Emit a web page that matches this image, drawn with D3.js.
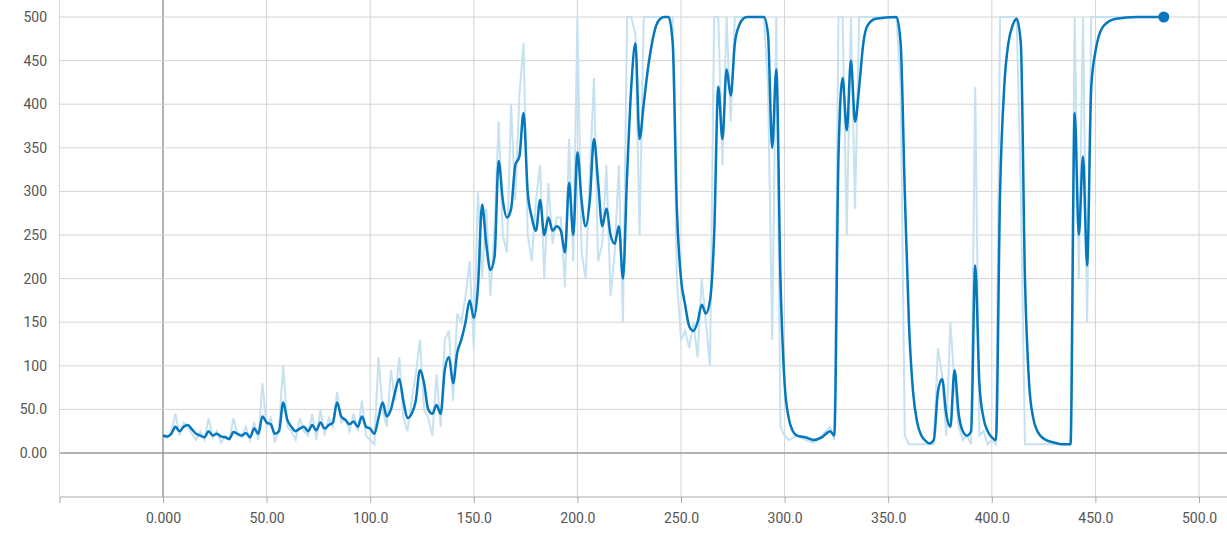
<!DOCTYPE html><html><head><meta charset="utf-8"><script src="https://cdn.jsdelivr.net/npm/d3@7"></script>
<style>body{margin:0;background:#fff}text{font-family:Roboto,"Open Sans",sans-serif}</style></head><body><svg id="c" width="1227" height="540"></svg><script>
const xTicks=[0,50,100,150,200,250,300,350,400,450,500];
const xTickLabels=["0.000","50.00","100.0","150.0","200.0","250.0","300.0","350.0","400.0","450.0","500.0"];
const yTicks=[0,50,100,150,200,250,300,350,400,450,500];
const yTickLabels=["0.00","50.0","100","150","200","250","300","350","400","450","500"];
const smoothSteps=[0,2,4,6,8,10,12,14,16,18,20,22,24,26,28,30,32,34,36,38,40,42,44,46,48,50,52,54,56,58,60,62,64,66,68,70,72,74,76,78,80,82,84,86,88,90,92,94,96,98,100,102,104,106,108,110,112,114,116,118,120,122,124,126,128,130,132,134,136,138,140,142,144,146,148,150,152,154,156,158,160,162,164,166,168,170,172,174,176,178,180,182,184,186,188,190,192,194,196,198,200,202,204,206,208,210,212,214,216,218,220,222,224,226,228,230,232,234,236,238,240,242,244,246,248,250,252,254,256,258,260,262,264,266,268,270,272,274,276,278,280,282,290,292,294,296,298,300,302,304,306,310,314,318,322,324,326,328,330,332,334,336,338,340,344,354,356,358,360,362,364,366,368,370,372,374,376,378,380,382,384,386,388,390,392,394,396,398,400,402,404,406,408,410,412,414,416,418,420,422,426,430,434,438,440,442,444,446,448,450,454,460,470,483];
const smoothValues=[20,19,22,30,25,30,32,27,22,20,18,25,20,22,19,18,16,24,22,20,23,18,28,22,42,35,33,22,25,58,38,30,25,28,30,25,32,26,35,28,32,35,58,42,38,33,36,30,42,30,28,22,40,58,42,50,70,85,60,40,45,60,95,80,50,45,55,45,95,110,80,115,130,150,175,155,190,285,240,210,225,335,290,270,280,330,340,390,300,270,255,290,250,270,255,260,255,230,310,250,345,290,260,290,360,310,260,280,250,240,260,200,320,420,470,360,400,440,470,490,498,500,500,470,280,200,170,145,140,150,170,160,175,250,420,360,440,410,470,490,498,500,500,480,350,440,200,80,40,25,20,18,15,18,25,20,340,430,370,450,380,420,470,490,498,500,470,300,150,70,35,20,14,11,15,70,85,45,30,95,45,25,20,25,215,80,40,25,18,15,300,420,470,490,498,470,200,80,40,25,15,12,10,10,390,250,340,215,420,460,490,498,500,500];
const rawSteps=[0,2,4,6,8,10,12,14,16,18,20,22,24,26,28,30,32,34,36,38,40,42,44,46,48,50,52,54,56,58,60,62,64,66,68,70,72,74,76,78,80,82,84,86,88,90,92,94,96,98,100,102,104,106,108,110,112,114,116,118,120,122,124,126,128,130,132,134,136,138,140,142,144,146,148,150,152,154,156,158,160,162,164,166,168,170,172,174,176,178,180,182,184,186,188,190,192,194,196,198,200,202,204,206,208,210,212,214,216,218,220,222,224,226,228,230,232,234,236,240,246,248,250,252,254,256,258,260,262,264,266,268,270,272,274,276,282,290,292,294,296,298,300,302,306,310,314,318,322,324,326,328,330,332,334,336,340,354,356,358,360,364,368,372,374,376,378,380,382,384,386,388,390,392,394,396,398,400,402,404,406,412,414,416,420,426,430,434,438,440,442,444,446,448,450,483];
const rawValues=[20,17,25,45,20,35,30,22,15,25,15,40,18,25,12,20,15,40,20,18,30,15,35,15,80,30,40,12,30,100,30,25,15,40,25,20,45,15,50,20,40,30,70,35,40,25,45,25,60,20,15,10,110,50,30,95,60,110,40,25,60,90,130,50,40,20,90,30,130,140,60,160,150,180,220,120,300,200,280,180,260,380,250,230,400,290,410,470,250,220,290,330,200,310,240,270,270,190,360,220,500,230,200,320,430,220,240,330,180,230,330,150,500,500,480,250,500,500,500,500,500,200,130,140,120,150,110,200,150,100,500,500,330,500,380,500,500,500,420,130,500,30,20,15,20,15,12,20,30,15,500,500,250,500,280,500,500,500,420,20,10,10,10,10,120,90,20,150,80,30,15,20,10,420,20,25,10,15,10,500,500,500,300,10,10,10,10,10,10,500,200,500,150,500,500,500];

const svg=d3.select("#c");
const x=d3.scaleLinear().domain([-50,500]).range([59.4,1199]);
const y=d3.scaleLinear().domain([-50,500]).range([496.6,17]);
const g=svg.append("g");
g.selectAll(".vg").data([-50,...xTicks]).join("line").attr("x1",d=>x(d)).attr("x2",d=>x(d)).attr("y1",0).attr("y2",497).attr("stroke",d=>d===0?"#999":"#d4d4d4").attr("stroke-width",d=>d===0?1.5:1);
g.selectAll(".hg").data(yTicks).join("line").attr("x1",60).attr("x2",1227).attr("y1",d=>y(d)).attr("y2",d=>y(d)).attr("stroke",d=>d===0?"#999":"#d4d4d4").attr("stroke-width",d=>d===0?1.5:1);
const xa=svg.append("g").attr("transform","translate(0,497)").call(d3.axisBottom(x).tickValues([-50,...xTicks]).tickSize(6).tickFormat(d=>{const i=xTicks.indexOf(d);return i<0?"":xTickLabels[i];}));
xa.select(".domain").attr("stroke","#aaa").attr("d","M60,0H1227");
xa.selectAll(".tick line").attr("stroke","#aaa");
xa.selectAll("text").attr("fill","#555").style("font-size","14px").attr("dy","1.2em");
const ya=svg.append("g").attr("transform","translate(60,0)").call(d3.axisLeft(y).tickValues(yTicks).tickSize(0).tickPadding(13).tickFormat((d,i)=>yTickLabels[i]));
ya.select(".domain").remove();
ya.selectAll("text").attr("fill","#555").style("font-size","14px");
const line=d3.line().x(d=>x(d[0])).y(d=>y(d[1]));
svg.append("path").attr("d",line(rawSteps.map((s,i)=>[s,rawValues[i]]))).attr("fill","none").attr("stroke","#c6e1f0").attr("stroke-width",2);
svg.append("path").attr("d",line.curve(d3.curveMonotoneX)(smoothSteps.map((s,i)=>[s,smoothValues[i]]))).attr("fill","none").attr("stroke","#0577bd").attr("stroke-width",2.5).attr("stroke-linejoin","round");
const n=smoothSteps.length-1;
svg.append("circle").attr("cx",x(smoothSteps[n])).attr("cy",y(smoothValues[n])).attr("r",5.5).attr("fill","#0577bd");
</script></body></html>
